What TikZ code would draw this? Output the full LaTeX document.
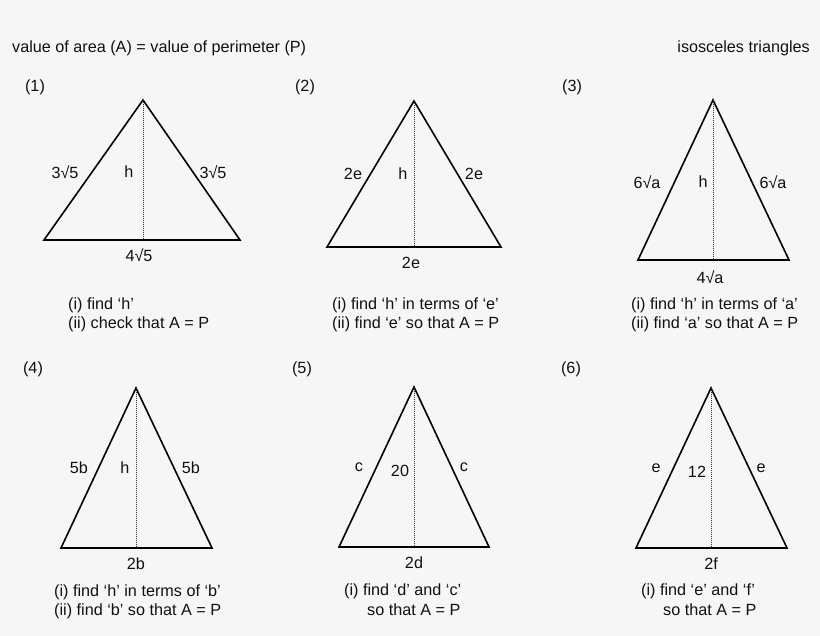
\documentclass[tikz,border=0pt]{standalone}
\usepackage{fontspec}
\setmainfont{Liberation Sans}
\usetikzlibrary{positioning}
\definecolor{paper}{HTML}{F6F6F6}
\definecolor{ink}{HTML}{111111}
\tikzstyle{side} = [draw, line width=1.6pt, line join=miter, color=black]
\tikzstyle{height} = [draw, line width=1pt, dash pattern=on 1pt off 1pt, color=black!80]

\begin{document}
\begin{tikzpicture}[x=1pt, y=-1pt, text=ink,
	font=\fontsize{16.2}{19}\selectfont,
	lbl/.style={inner sep=0pt},
	task/.style={anchor=west, inner sep=0pt}]
	\fill [paper] (0,0) rectangle (820,636);
	\useasboundingbox (0,0) rectangle (820,636);
	%% Headings
	\node [task] (title) at (12,48) {value of area (A) = value of perimeter (P)};
	\node [lbl, anchor=east] (kind) at (810,48) {isosceles triangles};
	%% (1)
	\node [lbl] (n1) at (35,87) {(1)};
	\coordinate (t1top) at (143,100);
	\coordinate (t1l) at (44,240);
	\coordinate (t1r) at (240,240);
	\coordinate (t1foot) at (t1top |- t1l);
	\path [side] (t1top) -- (t1l) -- (t1r) -- cycle;
	\path [height] (t1top) -- (t1foot);
	\node [lbl] (t1sl) at (65,172) {3√5};
	\node [lbl] (t1h) at (129,172) {h};
	\node [lbl] (t1sr) at (213,172) {3√5};
	\node [lbl] (t1b) at (139,255) {4√5};
	\node [task] (q1a) at (68,305) {(i) find ‘h’};
	\node [task] (q1b) at (68,324) {(ii) check that A = P};
	%% (2)
	\node [lbl] (n2) at (305,87) {(2)};
	\coordinate (t2top) at (414,101);
	\coordinate (t2l) at (327,247);
	\coordinate (t2r) at (501,247);
	\coordinate (t2foot) at (t2top |- t2l);
	\path [side] (t2top) -- (t2l) -- (t2r) -- cycle;
	\path [height] (t2top) -- (t2foot);
	\node [lbl] (t2sl) at (353,174) {2e};
	\node [lbl] (t2h) at (403,174) {h};
	\node [lbl] (t2sr) at (474,174) {2e};
	\node [lbl] (t2b) at (411,263) {2e};
	\node [task] (q2a) at (332,305) {(i) find ‘h’ in terms of ‘e’};
	\node [task] (q2b) at (332,324) {(ii) find ‘e’ so that A = P};
	%% (3)
	\node [lbl] (n3) at (572,87) {(3)};
	\coordinate (t3top) at (713,100);
	\coordinate (t3l) at (638,260);
	\coordinate (t3r) at (789,260);
	\coordinate (t3foot) at (t3top |- t3l);
	\path [side] (t3top) -- (t3l) -- (t3r) -- cycle;
	\path [height] (t3top) -- (t3foot);
	\node [lbl] (t3sl) at (647,182) {6√a};
	\node [lbl] (t3h) at (703,182) {h};
	\node [lbl] (t3sr) at (773,182) {6√a};
	\node [lbl] (t3b) at (710,277) {4√a};
	\node [task] (q3a) at (631,305) {(i) find ‘h’ in terms of ‘a’};
	\node [task] (q3b) at (631,324) {(ii) find ‘a’ so that A = P};
	%% (4)
	\node [lbl] (n4) at (33,369) {(4)};
	\coordinate (t4top) at (136,388);
	\coordinate (t4l) at (61,548);
	\coordinate (t4r) at (212,548);
	\coordinate (t4foot) at (t4top |- t4l);
	\path [side] (t4top) -- (t4l) -- (t4r) -- cycle;
	\path [height] (t4top) -- (t4foot);
	\node [lbl] (t4sl) at (79,468) {5b};
	\node [lbl] (t4h) at (125,468) {h};
	\node [lbl] (t4sr) at (191,468) {5b};
	\node [lbl] (t4b) at (136,564) {2b};
	\node [task] (q4a) at (54,592) {(i) find ‘h’ in terms of ‘b’};
	\node [task] (q4b) at (54,611) {(ii) find ‘b’ so that A = P};
	%% (5)
	\node [lbl] (n5) at (302,369) {(5)};
	\coordinate (t5top) at (414,387);
	\coordinate (t5l) at (339,547);
	\coordinate (t5r) at (489,547);
	\coordinate (t5foot) at (t5top |- t5l);
	\path [side] (t5top) -- (t5l) -- (t5r) -- cycle;
	\path [height] (t5top) -- (t5foot);
	\node [lbl] (t5sl) at (359,467) {c};
	\node [lbl] (t5h) at (400,471) {20};
	\node [lbl] (t5sr) at (464,467) {c};
	\node [lbl] (t5b) at (414,563) {2d};
	\node [task] (q5a) at (344,591) {(i) find ‘d’ and ‘c’};
	\node [task] (q5b) at (367,610) {so that A = P};
	%% (6)
	\node [lbl] (n6) at (571,369) {(6)};
	\coordinate (t6top) at (711,388);
	\coordinate (t6l) at (636,548);
	\coordinate (t6r) at (787,548);
	\coordinate (t6foot) at (t6top |- t6l);
	\path [side] (t6top) -- (t6l) -- (t6r) -- cycle;
	\path [height] (t6top) -- (t6foot);
	\node [lbl] (t6sl) at (656,468) {e};
	\node [lbl] (t6h) at (697,472) {12};
	\node [lbl] (t6sr) at (761,468) {e};
	\node [lbl] (t6b) at (711,564) {2f};
	\node [task] (q6a) at (641,591) {(i) find ‘e’ and ‘f’};
	\node [task] (q6b) at (663,610) {so that A = P};
\end{tikzpicture}
\end{document}
